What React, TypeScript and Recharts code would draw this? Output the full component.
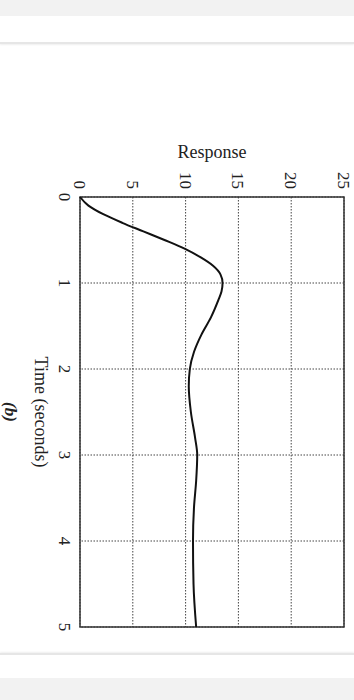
import { LineChart, Line, XAxis, YAxis, CartesianGrid, ReferenceArea } from "recharts";

const timeSec = [0, 0.1, 0.2, 0.3, 0.4, 0.5, 0.6, 0.7, 0.8, 0.9, 1.0, 1.1, 1.2, 1.4, 1.6, 1.8, 2.0, 2.2, 2.5, 2.8, 3.0, 3.3, 3.6, 4.0, 4.5, 5.0];
const response = [0, 0.8, 2.2, 4.0, 6.0, 8.0, 9.9, 11.4, 12.6, 13.3, 13.5, 13.4, 13.1, 12.4, 11.5, 10.8, 10.4, 10.3, 10.5, 10.9, 11.1, 11.0, 10.8, 10.7, 10.75, 11.0];
const timeTicks = [0, 1, 2, 3, 4, 5];
const responseTicks = [0, 5, 10, 15, 20, 25];

const data = timeSec.map((t, i) => ({ t, r: response[i] }));

const FONT = "'Liberation Serif', 'Times New Roman', serif";

function ResponseLabel(props: any) {
  const vb = props.viewBox || {};
  const cy = vb.y + vb.height / 2;
  const x = 25;
  return (
    <text x={x} y={cy} transform={`rotate(-90, ${x}, ${cy})`} textAnchor="middle" dominantBaseline="central"
      fontFamily={FONT} fontSize={18} fill="#222">
      Response
    </text>
  );
}

function TimeLabel(props: any) {
  const vb = props.viewBox || {};
  const cx = vb.x + vb.width / 2;
  return (
    <g fontFamily={FONT} fill="#222" textAnchor="middle">
      <text x={cx} y={vb.y + 39} dominantBaseline="central" fontSize={18}>Time (seconds)</text>
      <text x={cx} y={vb.y + 70} dominantBaseline="central" fontSize={17} fontStyle="italic" fontWeight="bold">(b)</text>
    </g>
  );
}

export default function App() {
  return (
    <div style={{ position: "absolute", left: 0, top: 0, width: 354, height: 700, background: "#fff", overflow: "hidden" }}>
      <div style={{ position: "absolute", left: 0, top: 0, width: 354, height: 16, background: "#f2f2f2" }} />
      <div style={{ position: "absolute", left: 0, top: 42, width: 354, height: 2, background: "#e6e6e6", boxShadow: "0 1px 2px #eee" }} />
      <div style={{ position: "absolute", left: 0, top: 653, width: 354, height: 2, background: "#e6e6e6", boxShadow: "0 -1px 2px #eee" }} />
      <div style={{ position: "absolute", left: 0, top: 678, width: 354, height: 22, background: "#f2f2f2" }} />
      <div
        style={{
          position: "absolute",
          left: 0,
          top: 127,
          width: 515,
          height: 354,
          transformOrigin: "0 0",
          transform: "translate(354px, 0) rotate(90deg)",
        }}
      >
        <LineChart width={515} height={354} data={data} margin={{ top: 10, right: 15, left: 0, bottom: 0 }}>
          <CartesianGrid stroke="#444" strokeDasharray="1.5 1.5" strokeWidth={1} />
          <XAxis
            dataKey="t"
            type="number"
            domain={[0, 5]}
            ticks={timeTicks}
            height={80}
            tickSize={0}
            tickMargin={9}
            axisLine={false}
            tick={{ fill: "#222", fontSize: 17, fontFamily: FONT }}
            label={<TimeLabel />}
          />
          <YAxis
            type="number"
            domain={[0, 25]}
            ticks={responseTicks}
            width={70}
            tickSize={0}
            tickMargin={8}
            axisLine={false}
            tick={{ fill: "#222", fontSize: 17, fontFamily: FONT }}
            label={<ResponseLabel />}
          />
          <ReferenceArea x1={0} x2={5} y1={0} y2={25} fill="none" stroke="#333" strokeWidth={1.5} ifOverflow="visible" />
          <Line type="monotone" dataKey="r" stroke="#111" strokeWidth={2} dot={false} isAnimationActive={false} />
        </LineChart>
      </div>
    </div>
  );
}
